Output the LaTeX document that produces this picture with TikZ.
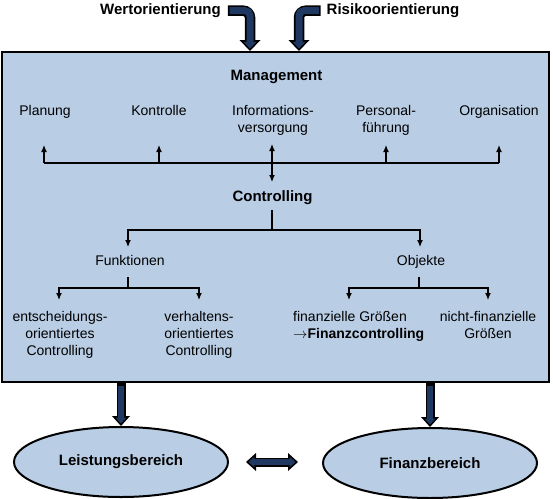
\documentclass[tikz,border=0pt]{standalone}
\usepackage{fontspec}
\setmainfont{Liberation Sans}
\usetikzlibrary{arrows.meta,shapes.geometric,positioning}
\definecolor{boxblue}{RGB}{185,205,229}
\definecolor{arrownavy}{RGB}{31,56,98}
\tikzset{
  txt/.style={font=\fontsize{14}{17}\selectfont, align=center, inner sep=0pt},
  bold/.style={font=\fontsize{15}{18}\selectfont\bfseries, align=center, inner sep=0pt},
  line/.style={line width=1.2pt, black},
  arr/.style={line, -{Latex[length=7pt,width=6pt]}},
  darr/.style={line, {Latex[length=7pt,width=6pt]}-{Latex[length=7pt,width=6pt]}},
  bigout/.style={line width=10.5pt, black, rounded corners=7pt,
    >={Triangle[length=11pt,width=21pt,line width=0pt]}},
  bigin/.style={line width=7pt, arrownavy, rounded corners=5pt,
    shorten <=1.7pt, shorten >=2.4pt, >={Triangle[length=6.8pt,width=13pt,line width=0pt]}},
  smallout/.style={line width=9pt, black,
    >={Triangle[length=10pt,width=18pt,line width=0pt]}},
  smallin/.style={line width=5.6pt, arrownavy,
    shorten <=2.5pt, shorten >=2.5pt, >={Triangle[length=5.8pt,width=10.4pt,line width=0pt]}},
  area/.style={ellipse, draw, line width=2pt, fill=boxblue, minimum width=214pt,
    minimum height=70pt, inner sep=0pt, font=\fontsize{15}{18}\selectfont\bfseries}
}
\begin{document}
\begin{tikzpicture}[x=1pt, y=-1pt]
\useasboundingbox (0,0) rectangle (553,498);

% main frame
\node (frame) [draw, line width=2pt, fill=boxblue, minimum width=547pt, minimum height=330pt,
  inner sep=0pt] at (275.5,217) {};

% inputs on top
\node (wert) [bold, anchor=base] at (160.5,14.5) {Wertorientierung};
\node (risk) [bold, anchor=base] at (393,14.5) {Risikoorientierung};
\coordinate (inW) at (250,51);
\coordinate (inR) at (299,51);
\draw[bigout,->] ([xshift=7pt]wert.east) -| (inW);
\draw[bigin,->] ([xshift=7pt]wert.east) -| (inW);
\draw[bigout,->] ([xshift=-6pt]risk.west) -| (inR);
\draw[bigin,->] ([xshift=-6pt]risk.west) -| (inR);

% Management row
\node (mgmt) [bold, anchor=base] at (276.5,80) {Management};
\node (plan) [txt, anchor=base] at (45,115) {Planung};
\node (kontr) [txt, anchor=base] at (159,115) {Kontrolle};
\node (info) [txt, anchor=north] at (273,105) {Informations-\\versorgung};
\node (pers) [txt, anchor=north] at (386,105) {Personal-\\führung};
\node (orga) [txt, anchor=base] at (499,115) {Organisation};

\coordinate (busL) at (44,163);
\coordinate (busR) at (499,163);
\coordinate (busC) at (272,163);
\draw[line] (busL) -- (busR);
\draw[arr] (busL) -- ++(0,-18);
\draw[arr] (159,163) -- ++(0,-18);
\draw[arr] (386,163) -- ++(0,-18);
\draw[arr] (busR) -- ++(0,-18);
\draw[darr] (272,144) -- (272,182);

% Controlling tree
\node (ctrl) [bold, anchor=base] at (272.5,201) {Controlling};
\node (funk) [txt, anchor=base] at (130,265) {Funktionen};
\node (obj) [txt, anchor=base] at (421,265) {Objekte};
\coordinate (split) at (272,230);
\draw[line] (272,210) -- (split);
\draw[arr] (split) -| (128,247);
\draw[arr] (split) -| (420,247);

\node (ents) [txt, anchor=north] at (60,311) {entscheidungs-\\orientiertes\\Controlling};
\node (verh) [txt, anchor=north] at (199,311) {verhaltens-\\orientiertes\\Controlling};
\node (fin) [txt, anchor=north west, align=left] at (293,311)
  {finanzielle Größen\\$\rightarrow$\textbf{Finanzcontrolling}};
\node (nfin) [txt, anchor=north] at (488,311) {nicht-finanzielle\\Größen};

\coordinate (splitF) at (128,288);
\coordinate (splitO) at (419,288);
\draw[line] (128,277) -- (splitF);
\draw[arr] (splitF) -| (59,300);
\draw[arr] (splitF) -| (199,300);
\draw[line] (419,277) -- (splitO);
\draw[arr] (splitO) -| (349,300);
\draw[arr] (splitO) -| (488,300);

% areas below
\node (leist) [area] at (121,462) {Leistungsbereich};
\node (finb) [area] at (430,463) {Finanzbereich};
\draw[smallout,->] (121,383) -- (leist.north);
\draw[smallin,->] (121,383) -- (leist.north);
\draw[smallout,->] (430,383) -- (finb.north);
\draw[smallin,->] (430,383) -- (finb.north);
\draw[smallout,<->] ([xshift=17pt]leist.east) -- ([xshift=-24pt]finb.west |- leist.east);
\draw[smallin,<->] ([xshift=17pt]leist.east) -- ([xshift=-24pt]finb.west |- leist.east);
\end{tikzpicture}
\end{document}
